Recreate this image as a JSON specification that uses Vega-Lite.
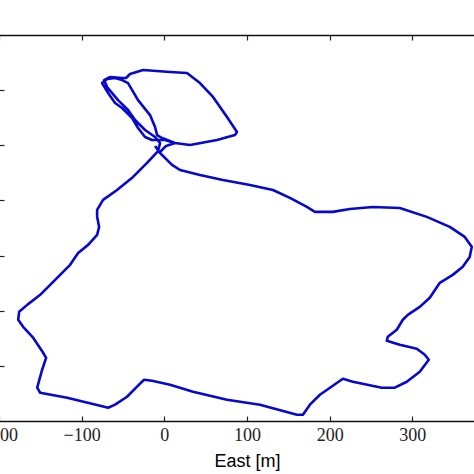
{
  "$schema": "https://vega.github.io/schema/vega-lite/v6.json",
  "autosize": {"type": "none"},
  "width": 496,
  "height": 386,
  "padding": {"left": -1, "top": 35, "right": -21, "bottom": 53},
  "background": "white",
  "view": {"stroke": null},
  "data": {"values": [
    {"i":1,"east":-5.2,"north":-6.1},{"i":2,"east":2.1,"north":-0.6},{"i":3,"east":12.9,"north":2.1},{"i":4,"east":0.8,"north":4.8},
    {"i":5,"east":-14.9,"north":4.8},{"i":6,"east":-23.3,"north":7.5},{"i":7,"east":-31.8,"north":15.7},{"i":8,"east":-39.0,"north":24.7},
    {"i":9,"east":-51.1,"north":33.8},{"i":10,"east":-59.6,"north":38.3},{"i":11,"east":-68.0,"north":47.4},{"i":12,"east":-75.3,"north":56.4},
    {"i":13,"east":-69.2,"north":60.1},{"i":14,"east":-59.6,"north":61.0},{"i":15,"east":-51.1,"north":59.1},{"i":16,"east":-43.9,"north":56.4},
    {"i":17,"east":-31.8,"north":41.0},{"i":18,"east":-17.3,"north":27.4},{"i":19,"east":-11.2,"north":16.6},{"i":20,"east":-8.8,"north":9.3},
    {"i":21,"east":-2.8,"north":6.6},{"i":22,"east":12.9,"north":2.1},{"i":23,"east":31.1,"north":0.3},{"i":24,"east":63.7,"north":4.8},
    {"i":25,"east":85.4,"north":9.3},{"i":26,"east":87.9,"north":12.0},{"i":27,"east":75.8,"north":25.6},{"i":28,"east":58.9,"north":43.8},
    {"i":29,"east":43.1,"north":56.4},{"i":30,"east":27.4,"north":65.5},{"i":31,"east":6.9,"north":66.4},{"i":32,"east":-25.7,"north":68.2},
    {"i":33,"east":-41.5,"north":64.6},{"i":34,"east":-46.3,"north":61.0},{"i":35,"east":-51.1,"north":61.0},{"i":36,"east":-65.6,"north":61.9},
    {"i":37,"east":-72.9,"north":59.1},{"i":38,"east":-69.2,"north":52.8},{"i":39,"east":-56.0,"north":41.0},{"i":40,"east":-43.9,"north":32.0},
    {"i":41,"east":-35.4,"north":22.9},{"i":42,"east":-23.3,"north":13.9},{"i":43,"east":-11.2,"north":7.5},{"i":44,"east":-5.2,"north":2.1},
    {"i":45,"east":-7.6,"north":-5.2},{"i":46,"east":-20.9,"north":-16.0},{"i":47,"east":-37.8,"north":-28.7},{"i":48,"east":-57.2,"north":-40.5},
    {"i":49,"east":-74.1,"north":-49.5},{"i":50,"east":-81.3,"north":-58.6},{"i":51,"east":-81.3,"north":-64.9},{"i":52,"east":-78.9,"north":-74.0},
    {"i":53,"east":-81.3,"north":-81.2},{"i":54,"east":-92.2,"north":-90.3},{"i":55,"east":-104.3,"north":-97.6},{"i":56,"east":-114.0,"north":-108.4},
    {"i":57,"east":-132.1,"north":-122.0},{"i":58,"east":-150.2,"north":-135.6},{"i":59,"east":-165.9,"north":-144.7},{"i":60,"east":-175.6,"north":-151.0},
    {"i":61,"east":-176.8,"north":-158.2},{"i":62,"east":-170.8,"north":-164.6},{"i":63,"east":-158.7,"north":-174.5},{"i":64,"east":-146.6,"north":-188.1},
    {"i":65,"east":-143.0,"north":-192.7},{"i":66,"east":-147.8,"north":-203.5},{"i":67,"east":-153.8,"north":-219.8},{"i":68,"east":-150.2,"north":-224.4},
    {"i":69,"east":-117.6,"north":-228.9},{"i":70,"east":-77.7,"north":-236.1},{"i":71,"east":-68.0,"north":-238.0},{"i":72,"east":-59.6,"north":-235.2},
    {"i":73,"east":-45.1,"north":-228.0},{"i":74,"east":-33.0,"north":-218.9},{"i":75,"east":-24.5,"north":-212.6},{"i":76,"east":-14.9,"north":-213.5},
    {"i":77,"east":6.9,"north":-217.1},{"i":78,"east":34.7,"north":-223.5},{"i":79,"east":75.8,"north":-230.7},{"i":80,"east":115.7,"north":-235.2},
    {"i":81,"east":160.4,"north":-244.3},{"i":82,"east":167.6,"north":-244.3},{"i":83,"east":176.1,"north":-235.2},{"i":84,"east":188.2,"north":-226.2},
    {"i":85,"east":216.0,"north":-211.7},{"i":86,"east":228.0,"north":-214.4},{"i":87,"east":263.1,"north":-219.8},{"i":88,"east":278.8,"north":-219.8},
    {"i":89,"east":293.3,"north":-214.4},{"i":90,"east":309.0,"north":-205.3},{"i":91,"east":319.9,"north":-194.5},{"i":92,"east":315.1,"north":-189.9},
    {"i":93,"east":305.4,"north":-184.5},{"i":94,"east":284.8,"north":-180.9},{"i":95,"east":269.1,"north":-177.3},{"i":96,"east":270.3,"north":-173.6},
    {"i":97,"east":281.2,"north":-167.3},{"i":98,"east":288.5,"north":-158.2},{"i":99,"east":294.5,"north":-153.7},{"i":100,"east":309.0,"north":-146.5},
    {"i":101,"east":321.1,"north":-138.3},{"i":102,"east":333.2,"north":-124.7},{"i":103,"east":348.9,"north":-117.5},{"i":104,"east":361.0,"north":-110.2},
    {"i":105,"east":369.4,"north":-101.2},{"i":106,"east":371.9,"north":-92.1},{"i":107,"east":363.4,"north":-83.1},{"i":108,"east":345.3,"north":-74.0},
    {"i":109,"east":317.5,"north":-64.9},{"i":110,"east":284.8,"north":-56.8},{"i":111,"east":252.2,"north":-55.9},{"i":112,"east":224.4,"north":-57.7},
    {"i":113,"east":203.9,"north":-60.4},{"i":114,"east":182.1,"north":-60.4},{"i":115,"east":172.5,"north":-55.9},{"i":116,"east":151.9,"north":-47.7},
    {"i":117,"east":131.4,"north":-40.5},{"i":118,"east":103.6,"north":-36.0},{"i":119,"east":70.9,"north":-31.4},{"i":120,"east":43.1,"north":-26.9},
    {"i":121,"east":19.0,"north":-22.4},{"i":122,"east":9.3,"north":-17.8},{"i":123,"east":-5.2,"north":-7.0},{"i":124,"east":-11.2,"north":-0.6}
  ]},
  "layer": [
    {
      "mark": {"type": "line", "color": "#0608cc", "strokeWidth": 2.6, "strokeJoin": "round"},
      "encoding": {
        "order": {"field": "i", "type": "quantitative"},
        "x": {
          "field": "east", "type": "quantitative",
          "scale": {"domain": [-200, 400], "nice": false, "zero": false},
          "axis": {"orient": "bottom", "title": "East [m]", "values": [-200, -100, 0, 100, 200, 300, 400], "grid": false, "tickSize": -5, "labelPadding": 10, "labelFlush": false, "labelOverlap": false, "titlePadding": 8}
        },
        "y": {
          "field": "north", "type": "quantitative",
          "scale": {"domain": [-250, 100], "nice": false, "zero": false},
          "axis": {"title": "North [m]", "values": [-200, -150, -100, -50, 0, 50], "grid": false, "tickSize": -5, "domain": false, "labelPadding": 26, "labelFlush": false}
        }
      }
    },
    {
      "mark": {"type": "line", "opacity": 0},
      "encoding": {
        "order": {"field": "i", "type": "quantitative"},
        "x": {
          "field": "east", "type": "quantitative",
          "axis": {"orient": "top", "title": null, "labels": false, "values": [-200, -100, 0, 100, 200, 300, 400], "grid": false, "tickSize": -5}
        },
        "y": {"field": "north", "type": "quantitative"}
      }
    }
  ],
  "resolve": {"axis": {"x": "independent"}},
  "config": {
    "axis": {
      "domainColor": "#111111", "domainWidth": 1.5, "tickColor": "#222222", "tickWidth": 1.2,
      "labelFont": "Liberation Serif", "labelFontSize": 18, "labelColor": "#222222",
      "titleFont": "Liberation Sans", "titleFontSize": 18, "titleFontWeight": "normal", "titleColor": "#000000",
      "titlePadding": 6, "grid": false
    }
  }
}
